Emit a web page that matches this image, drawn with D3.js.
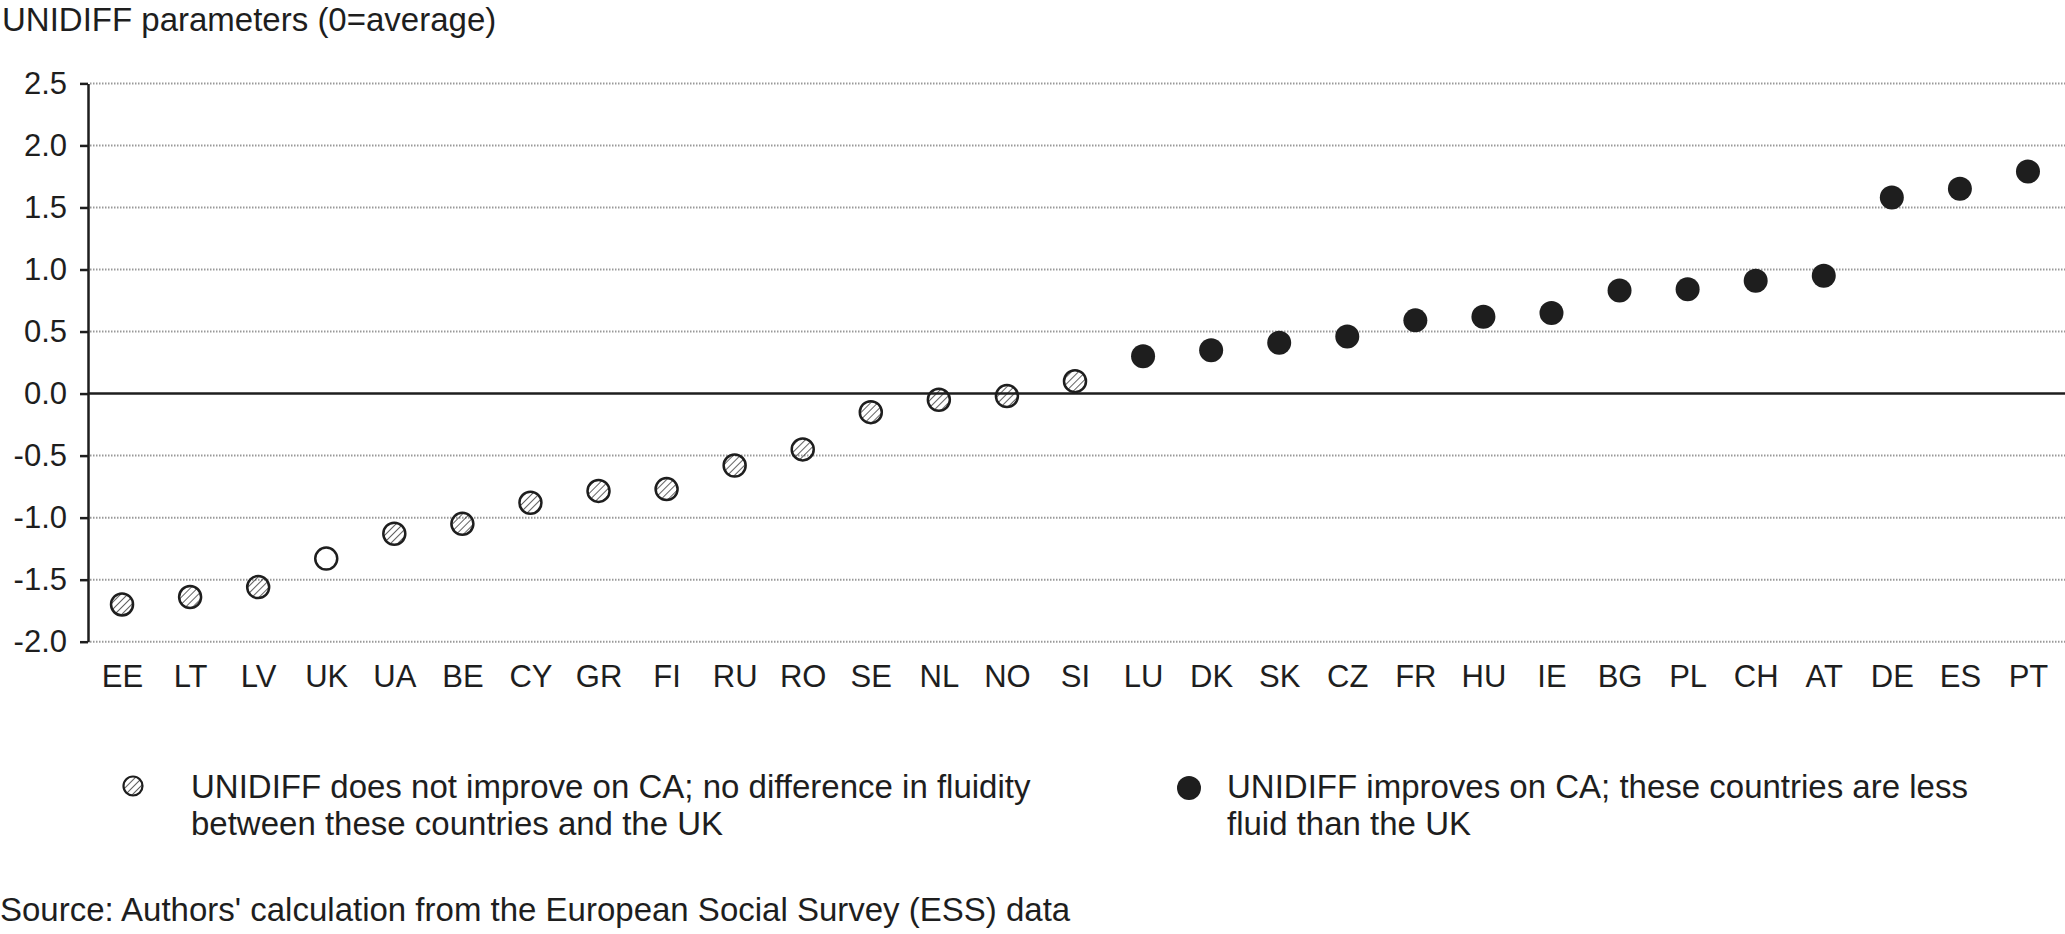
<!DOCTYPE html>
<html>
<head>
<meta charset="utf-8">
<script src="https://cdn.jsdelivr.net/npm/d3@7"></script>
<style>
  body { margin: 0; background: #fff; }
  svg text { font-family: Arial, "Liberation Sans", sans-serif; fill: #1e1e1e; }
</style>
</head>
<body>
<div id="chart"></div>
<script>
// countries ordered as in the figure, with their UNIDIFF parameter
var countries = ['EE','LT','LV','UK','UA','BE','CY','GR','FI','RU','RO','SE','NL','NO','SI',
                 'LU','DK','SK','CZ','FR','HU','IE','BG','PL','CH','AT','DE','ES','PT'];
var values = [-1.70,-1.64,-1.56,-1.33,-1.13,-1.05,-0.88,-0.785,-0.77,-0.58,-0.45,-0.15,-0.05,-0.02,0.10,
              0.30,0.35,0.41,0.46,0.59,0.62,0.65,0.83,0.84,0.91,0.95,1.58,1.65,1.79];
// hatch = no difference from UK, open = UK itself, filled = less fluid than UK
var markers = ['hatch','hatch','hatch','open','hatch','hatch','hatch','hatch','hatch','hatch','hatch','hatch','hatch','hatch','hatch',
               'filled','filled','filled','filled','filled','filled','filled','filled','filled','filled','filled','filled','filled','filled'];
var yTicks = [2.5, 2.0, 1.5, 1.0, 0.5, 0.0, -0.5, -1.0, -1.5, -2.0];
var legendLines = [
    ['UNIDIFF does not improve on CA; no difference in fluidity', 'between these countries and the UK'],
    ['UNIDIFF improves on CA; these countries are less', 'fluid than the UK']
];

var data = countries.map((c, i) => ({ country: c, value: values[i], marker: markers[i] }));

var W = 2065, H = 934,
    axisFont = 31,
    textFont = 33,
    ink = '#1e1e1e';

var x = d3.scalePoint().domain(countries).range([88, 2062]).padding(0.5);
var y = d3.scaleLinear().domain([-2.0, 2.5]).range([641.7, 83.4]);

var svg = d3.select('#chart').append('svg')
    .attr('width', W)
    .attr('height', H);

var defs = svg.append('defs');
defs.append('pattern')
    .attr('id', 'hatch')
    .attr('patternUnits', 'userSpaceOnUse')
    .attr('width', 5)
    .attr('height', 5)
    .attr('patternTransform', 'rotate(45)')
    .append('line')
    .attr('x1', 0).attr('y1', 0)
    .attr('x2', 0).attr('y2', 5)
    .attr('stroke', ink)
    .attr('stroke-width', 1.4);

// title
svg.append('text')
    .attr('x', 2)
    .attr('y', 31)
    .style('font-size', textFont + 'px')
    .text('UNIDIFF parameters (0=average)');

// dotted gridlines
svg.append('g')
    .selectAll('line')
    .data(yTicks.filter(d => d != 0))
    .join('line')
    .attr('x1', 90).attr('x2', W)
    .attr('y1', d => y(d)).attr('y2', d => y(d))
    .attr('stroke', '#999')
    .attr('stroke-width', 2)
    .attr('stroke-dasharray', '1.5,1.5');

// zero line
svg.append('line')
    .attr('x1', 88).attr('x2', W)
    .attr('y1', y(0)).attr('y2', y(0))
    .attr('stroke', ink)
    .attr('stroke-width', 2.5);

// y axis
var yAxis = d3.axisLeft(y)
    .tickValues(yTicks)
    .tickFormat(d => d3.format('.1f')(d).replace('\u2212', '-'))
    .tickSize(8)
    .tickPadding(13)
    .tickSizeOuter(0);

var gy = svg.append('g')
    .attr('transform', 'translate(88,0)')
    .call(yAxis);
gy.select('.domain').attr('stroke', ink).attr('stroke-width', 2.5);
gy.selectAll('.tick line').attr('stroke', ink).attr('stroke-width', 2.5);
gy.selectAll('.tick text')
    .attr('fill', ink)
    .style('font-size', axisFont + 'px')
    .style('font-family', 'Arial, "Liberation Sans", sans-serif');

// x labels
var xAxis = d3.axisBottom(x).tickSize(0).tickPadding(0);
var gx = svg.append('g')
    .attr('transform', 'translate(0,641.7)')
    .call(xAxis);
gx.select('.domain').remove();
gx.selectAll('.tick text')
    .attr('dy', null)
    .attr('y', 45)
    .attr('fill', ink)
    .style('font-size', axisFont + 'px')
    .style('font-family', 'Arial, "Liberation Sans", sans-serif');

// points
svg.append('g')
    .selectAll('circle')
    .data(data)
    .join('circle')
    .attr('cx', d => x(d.country))
    .attr('cy', d => y(d.value))
    .attr('r', d => d.marker == 'filled' ? 12 : 11)
    .attr('fill', d => d.marker == 'filled' ? ink : (d.marker == 'hatch' ? 'url(#hatch)' : '#fff'))
    .attr('stroke', d => d.marker == 'filled' ? 'none' : ink)
    .attr('stroke-width', 2.5);

// legend
var legend = svg.append('g');
legend.append('circle')
    .attr('cx', 133).attr('cy', 786)
    .attr('r', 9.5)
    .attr('fill', 'url(#hatch)')
    .attr('stroke', ink)
    .attr('stroke-width', 2.2);
legend.append('circle')
    .attr('cx', 1189).attr('cy', 788)
    .attr('r', 12)
    .attr('fill', ink);

[191, 1227].forEach(function(lx, i) {
    legend.append('text')
	.attr('x', lx)
	.attr('y', 798)
	.style('font-size', textFont + 'px')
	.selectAll('tspan')
	.data(legendLines[i])
	.join('tspan')
	.attr('x', lx)
	.attr('dy', (d, j) => j ? 37 : 0)
	.text(d => d);
});

// source note
svg.append('text')
    .attr('x', 0)
    .attr('y', 921)
    .style('font-size', textFont + 'px')
    .text("Source: Authors' calculation from the European Social Survey (ESS) data");
</script>
</body>
</html>
